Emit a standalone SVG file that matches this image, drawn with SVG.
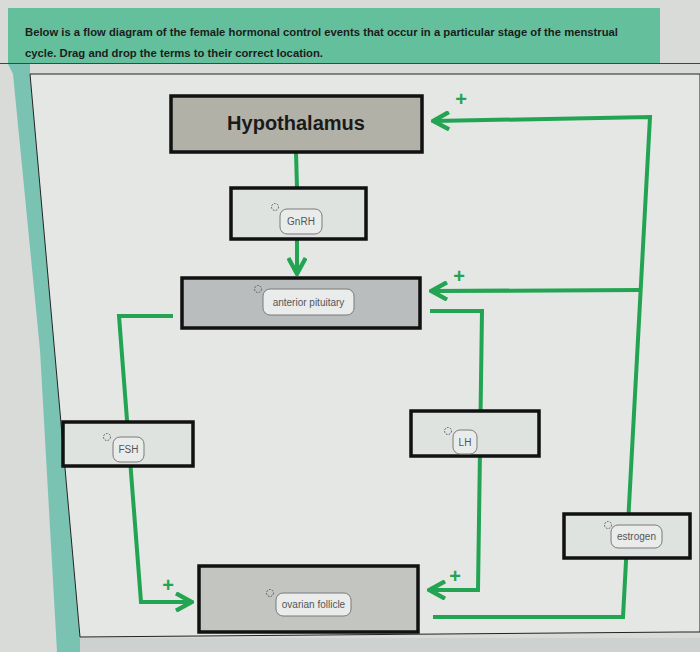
<svg xmlns="http://www.w3.org/2000/svg" width="700" height="652" viewBox="0 0 700 652">
<defs>
<style>
.hdr{font-family:"Liberation Sans",Arial,sans-serif;font-size:11.5px;font-weight:bold;fill:#1c1c1c}
.box{stroke:#111;stroke-width:3.5}
.lite{fill:#dfe3e0}
.pill{fill:#e9ecea;stroke:#7a7a7a;stroke-width:1}
.pt{font-family:"Liberation Sans",Arial,sans-serif;font-size:10px;fill:#555;text-anchor:middle}
.hnd{fill:none;stroke:#555;stroke-width:1;stroke-dasharray:1.6 1.4}
.con{fill:none;stroke:#22a452;stroke-width:4;stroke-linejoin:miter}
.plus{font-family:"Liberation Sans",Arial,sans-serif;font-size:20px;font-weight:bold;fill:#22a452;text-anchor:middle}
</style>
<marker id="arr" viewBox="0 0 12 12" refX="10" refY="6" markerWidth="5" markerHeight="5" orient="auto">
<path d="M1,0.8 L10.5,6 L1,11.2" fill="none" stroke="#22a452" stroke-width="2.6"/>
</marker>
</defs>
<rect x="0" y="0" width="700" height="652" fill="#d9dbd9"/>
<!-- header -->
<rect x="8" y="8" width="652" height="56" fill="#64c09c"/>
<path d="M8,64 L30,64 L30,74 L80,637 L80,652 L57,652 L40,350 L13,74 Z" fill="#7ac3b2"/>
<line x1="0" y1="63.5" x2="700" y2="63.5" stroke="#444" stroke-width="1"/>
<text class="hdr" x="25" y="36" textLength="593" lengthAdjust="spacingAndGlyphs">Below is a flow diagram of the female hormonal control events that occur in a particular stage of the menstrual</text>
<text class="hdr" x="25" y="57" textLength="298" lengthAdjust="spacingAndGlyphs">cycle.  Drag and drop the terms to their correct location.</text>
<!-- panel -->
<path d="M30,74 L700,74 L700,632 L683,632 L80,637 Z" fill="#e4e7e4" stroke="#222" stroke-width="1"/>
<rect x="80" y="638" width="620" height="14" fill="#cdd1cf"/>

<g id="connectors">
<line class="con" x1="296" y1="152" x2="297" y2="188"/>
<line class="con" x1="297" y1="240" x2="297" y2="273" marker-end="url(#arr)"/>
<polyline class="con" points="173,316 119,316 141,602 191,602" marker-end="url(#arr)"/>
<polyline class="con" points="430,311 482,311 478,590 430,590" marker-end="url(#arr)"/>
<polyline class="con" points="433,617 623,617 650,117 434,121" marker-end="url(#arr)"/>
<line class="con" x1="640" y1="290" x2="432" y2="291" marker-end="url(#arr)"/>
<text class="plus" x="461" y="106">+</text>
<text class="plus" x="459" y="283">+</text>
<text class="plus" x="168" y="592">+</text>
<text class="plus" x="455" y="583">+</text>
</g>

<g id="hypothalamus">
<rect class="box" x="171" y="96" width="251" height="56" fill="#b2b1a8"/>
<text x="296" y="130" text-anchor="middle" font-family="'Liberation Sans',Arial,sans-serif" font-size="20" font-weight="bold" fill="#1a1a1a">Hypothalamus</text>
</g>
<g id="gnrh">
<rect class="box lite" x="231" y="188" width="135" height="51"/>
<rect class="pill" x="280" y="209" width="42" height="25" rx="7"/>
<text class="pt" x="301" y="225">GnRH</text>
<circle class="hnd" cx="275" cy="207" r="3.5"/>
</g>
<g id="anterior-pituitary">
<rect class="box" x="182" y="278" width="238" height="50" fill="#b9bdbd"/>
<rect class="pill" x="263" y="289" width="91" height="26" rx="7"/>
<text class="pt" x="308.5" y="306">anterior pituitary</text>
<circle class="hnd" cx="258" cy="289" r="3.5"/>
</g>
<g id="fsh">
<rect class="box lite" x="63" y="422" width="130" height="44"/>
<rect class="pill" x="113" y="437" width="31" height="25" rx="7"/>
<text class="pt" x="128.5" y="453">FSH</text>
<circle class="hnd" cx="107" cy="437" r="3.5"/>
</g>
<g id="lh">
<rect class="box lite" x="411" y="411" width="128" height="45"/>
<rect class="pill" x="453" y="430" width="24" height="24" rx="7"/>
<text class="pt" x="465" y="446">LH</text>
<circle class="hnd" cx="448" cy="431" r="3.5"/>
</g>
<g id="estrogen">
<rect class="box lite" x="564" y="514" width="126" height="44"/>
<rect class="pill" x="611" y="525" width="51" height="23" rx="7"/>
<text class="pt" x="636.5" y="540">estrogen</text>
<circle class="hnd" cx="608" cy="525" r="3.5"/>
</g>
<g id="ovarian-follicle">
<rect class="box" x="199" y="566" width="219" height="66" fill="#c3c5c1"/>
<rect class="pill" x="276" y="593" width="75" height="23" rx="7"/>
<text class="pt" x="313.5" y="608">ovarian follicle</text>
<circle class="hnd" cx="270" cy="593" r="3.5"/>
</g>
</svg>
